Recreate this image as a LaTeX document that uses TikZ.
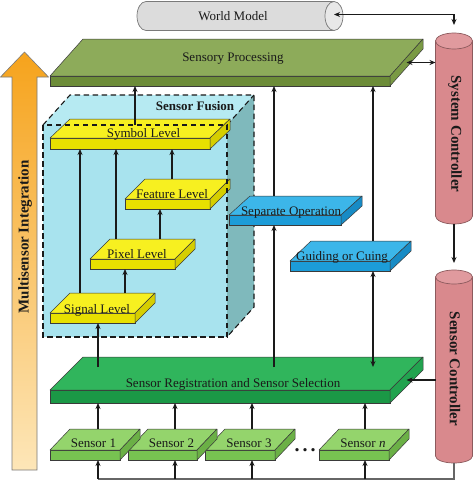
\documentclass[tikz,border=0pt]{standalone}
\usepackage{fontspec}
\setmainfont{Liberation Serif}
\usetikzlibrary{calc,arrows.meta,shapes.geometric}
\definecolor{txt}{HTML}{1A1A1A}
\definecolor{wmfill}{HTML}{DCDCDC}
\definecolor{wmend}{HTML}{E8E8E8}
\definecolor{wmdraw}{HTML}{7A7A7A}
\definecolor{sptop}{HTML}{8DAB5A}
\definecolor{spfront}{HTML}{6C8C38}
\definecolor{spside}{HTML}{7A9A44}
\definecolor{srtop}{HTML}{30B55C}
\definecolor{srfront}{HTML}{1B9846}
\definecolor{srside}{HTML}{22A34F}
\definecolor{sntop}{HTML}{94D46C}
\definecolor{snfront}{HTML}{77C251}
\definecolor{snside}{HTML}{6BB046}
\definecolor{ytop}{HTML}{F7F020}
\definecolor{yfront}{HTML}{E8E000}
\definecolor{yside}{HTML}{D6CE00}
\definecolor{btop}{HTML}{3CB6E9}
\definecolor{bfront}{HTML}{1C9CD8}
\definecolor{bside}{HTML}{178BC5}
\definecolor{fusfront}{HTML}{A8E3EE}
\definecolor{fustop}{HTML}{B6EAF2}
\definecolor{fusside}{HTML}{7FB9BC}
\definecolor{cylfill}{HTML}{D9898D}
\definecolor{cylend}{HTML}{E09A9E}
\definecolor{cyldraw}{HTML}{8C5A5D}
\definecolor{orT}{HTML}{F6A31C}
\definecolor{orB}{HTML}{FDE6B8}
\definecolor{edge}{HTML}{3A3A3A}
\definecolor{busc}{HTML}{666666}
\tikzset{
  slabfront/.style={draw=edge, line width=0.5pt, rectangle, inner sep=0pt, outer sep=0pt},
  slabedge/.style={draw=edge, line width=0.5pt, line join=round},
  lbl/.style={font=\fontsize{13}{13}\selectfont, text=txt, inner sep=0pt, anchor=base},
  blbl/.style={font=\fontsize{15}{15}\selectfont\bfseries, text=txt, inner sep=0pt},
  arr/.style={draw=txt, line width=1.2pt, -{Stealth[length=6pt,width=5pt]}},
  darr/.style={draw=txt, line width=1.2pt, {Stealth[length=6pt,width=5pt]}-{Stealth[length=6pt,width=5pt]}},
  fusdash/.style={draw=txt, line width=1.1pt, dash pattern=on 5.5pt off 3.5pt},
  cylbox/.style={rectangle, inner sep=0pt, outer sep=0pt},
  cylbody/.style={draw=cyldraw, fill=cylfill, line width=0.7pt},
  cylcap/.style={draw=cyldraw, fill=cylend, line width=0.7pt},
}
\newcommand\slab[8]{%
  \node[slabfront, fill=#8front, minimum width=#4pt, minimum height=#5pt, anchor=north west] (#1-f) at (#2,#3) {};
  \coordinate (#1-b) at ($(#1-f.north west)+(#6,-#7)$);
  \coordinate (#1-s) at ($(#1-f.east)+(#6/2,-#7/2)$);
  \filldraw[slabedge, fill=#8top] (#1-f.north west) -- (#1-b) -- ++(#4,0) -- (#1-f.north east) -- cycle;
  \filldraw[slabedge, fill=#8side] (#1-f.north east) -- ++(#6,-#7) -- ++(0,#5) -- (#1-f.south east) -- cycle;
}
% vertical cylinder drawn around a named box: #1 name, #2 half width, #3 cap half height
\newcommand\vcyl[3]{%
  \filldraw[cylbody] ($(#1.north west)+(0,#3)$) -- ($(#1.south west)+(0,-#3)$) arc[start angle=180, end angle=0, x radius=#2, y radius=#3] -- ($(#1.north east)+(0,#3)$) -- cycle;
  \filldraw[cylcap] ($(#1.north)+(0,#3)$) ellipse[x radius=#2, y radius=#3];
}
\begin{document}
\begin{tikzpicture}[x=1pt, y=-1pt]
\fill[white] (0,0) rectangle (474,482);
\useasboundingbox (0,0) rectangle (474,482);
% column coordinates
\foreach \c in {80,98,116,125,135,160,172,175,252,274,365,373}{\coordinate (c\c) at (\c,0);}
\coordinate (busy) at (0,479);
% multisensor integration arrow
\shadedraw[top color=orT, bottom color=orB, draw=wmdraw, line width=0.6pt] (12,470) -- (12,77) -- (0.5,77) -- (24.5,52) -- (48.5,77) -- (37,77) -- (37,470) -- cycle;
\node[blbl, rotate=90] (msi) at (25,237) {Multisensor Integration};
% world model
\node[cylbox, minimum width=206pt, minimum height=29pt] (wm) at (240,16) {};
\filldraw[draw=wmdraw, fill=wmfill, line width=0.7pt] ($(wm.north east)+(-9,0)$) -- ($(wm.north west)+(9,0)$) arc[start angle=270, end angle=90, x radius=9, y radius=14.5] -- ($(wm.south east)+(-9,0)$) -- cycle;
\filldraw[draw=wmdraw, fill=wmend, line width=0.7pt] ($(wm.east)+(-9,0)$) ellipse[x radius=9, y radius=14.5];
\coordinate (wmcap) at ($(wm.east)+(-9,-1.5)$);
\node[lbl] (wmt) at (233,20) {World Model};
% sensory processing
\slab{sp}{50}{76}{340}{10}{33}{37}{sp}
\node[lbl] (spt) at ($(sp-f.north)+(13,-15)$) {Sensory Processing};
% sensor fusion cube
\node[rectangle, fill=fusfront, minimum width=184pt, minimum height=212pt, anchor=north west, inner sep=0pt, outer sep=0pt] (fus) at (43,125) {};
\fill[fustop] (fus.north west) -- ++(27,-30) -- ++(184,0) -- (fus.north east) -- cycle;
\fill[fusside] (fus.north east) -- ++(27,-30) -- ++(0,212) -- (fus.south east) -- cycle;
\draw[fusdash] (fus.north west) -- ++(27,-30) -- ++(184,0) -- ++(0,212) -- (fus.south east);
\draw[fusdash] (fus.north east) -- ++(27,-30);
\node[font=\fontsize{13}{13}\selectfont\bfseries, text=txt, inner sep=0pt, anchor=base] (fusl) at (195,110) {Sensor Fusion};
% fusion levels
\slab{sym}{50}{138}{160}{11}{20}{19}{y}
\slab{feat}{125}{199}{85}{10}{20}{20}{y}
\slab{pix}{90}{259}{85}{10}{20}{20}{y}
\slab{sig}{50}{313}{85}{10}{20}{20}{y}
\draw[fusdash] (fus.north west) rectangle (fus.south east);
\node[lbl] (sym) at ($(sym-f.north)+(13.5,-1)$) {Symbol Level};
\node[lbl] (feat) at ($(feat-f.north)+(4.5,-1)$) {Feature Level};
\node[lbl] (pix) at ($(pix-f.north)+(4.5,-1)$) {Pixel Level};
\node[lbl] (sig) at ($(sig-f.north)+(4.5,0)$) {Signal Level};
% blue slabs
\slab{sep}{229}{215}{112}{10}{21}{19}{b}
\node[lbl] (sep) at ($(sep-f.north)+(6,0)$) {Separate Operation};
\slab{guid}{290}{261}{100}{10}{21}{20}{b}
\node[lbl] (guid) at ($(guid-f.north)+(2,-1)$) {Guiding or Cuing};
% sensor registration
\slab{sr}{50}{390}{340}{13}{33}{33}{sr}
\node[lbl] (sr) at ($(sr-f.north)+(13,-3)$) {Sensor Registration and Sensor Selection};
\coordinate (srtop) at ($(sr-f.north)+(0,-23)$);
% sensors
\slab{s4}{319}{450}{70}{10}{20}{21}{sn}
\slab{s3}{205}{450}{70}{10}{20}{21}{sn}
\slab{s2}{128}{450}{69}{10}{20}{21}{sn}
\slab{s1}{50}{450}{70}{10}{20}{21}{sn}
\node[lbl] (s1) at ($(s1-f.north)+(8.5,-3)$) {Sensor 1};
\node[lbl] (s2) at ($(s2-f.north)+(9,-3)$) {Sensor 2};
\node[lbl] (s3) at ($(s3-f.north)+(9,-3)$) {Sensor 3};
\node[lbl] (s4) at ($(s4-f.north)+(9,-3)$) {Sensor \textit{n}};
\node[lbl, font=\fontsize{20}{20}\selectfont\bfseries] (dots) at (305,451) {.\hspace{3pt}.\hspace{3pt}.};
% controllers
\node[cylbox, minimum width=37pt, minimum height=191pt] (sysc) at (454,128.5) {};
\vcyl{sysc}{18.5}{8}
\node[blbl, rotate=-90] (syst) at (455,134) {System Controller};
\node[cylbox, minimum width=37pt, minimum height=193pt] (sensc) at (454,366.5) {};
\vcyl{sensc}{18.5}{7}
\node[blbl, rotate=-90] (senst) at (455,369) {Sensor Controller};
% connectors
\draw[darr, shorten >=8pt] (wmcap) -| (sysc.north);
\draw[darr] (sp-s) -- (sp-s -| sysc.west);
\draw[arr, shorten >=7pt] (sysc.south) -- (sensc.north);
\draw[arr] (sensc.west |- sr-s) -- (sr-s);
\draw[draw=busc, line width=1.2pt] (sensc.south) |- (c98 |- busy);
\draw[arr] (c98 |- busy) -- (c98 |- s1-f.south);
\draw[arr] (c175 |- busy) -- (c175 |- s2-f.south);
\draw[arr] (c252 |- busy) -- (c252 |- s3-f.south);
\draw[arr] (c365 |- busy) -- (c365 |- s4-f.south);
\draw[arr] (c98 |- s1-b) -- (c98 |- sr-f.south);
\draw[arr] (c175 |- s2-b) -- (c175 |- sr-f.south);
\draw[arr] (c252 |- s3-b) -- (c252 |- sr-f.south);
\draw[arr] (c365 |- s4-b) -- (c365 |- sr-f.south);
\draw[arr] (c98 |- srtop) -- (c98 |- sig-f.south);
\draw[arr] (c274 |- srtop) -- (c274 |- sep-f.south);
\draw[darr] (c373 |- guid-f.south) -- (c373 |- srtop);
\draw[arr] (c274 |- sep-b) -- (c274 |- sp-f.south);
\draw[arr] (c373 |- guid-b) -- (c373 |- sp-f.south);
\draw[arr] (c135 |- sym-b) ++(0,6) -- (c135 |- sp-f.south);
\draw[arr] (c80 |- sig-b) -- (c80 |- sym-f.south);
\draw[arr] (c116 |- pix-b) -- (c116 |- sym-f.south);
\draw[arr] (c172 |- feat-b) -- (c172 |- sym-f.south);
\draw[arr] (c160 |- pix-b) -- (c160 |- feat-f.south);
\draw[arr] (c125 |- sig-b) -- (c125 |- pix-f.south);
\end{tikzpicture}
\end{document}
